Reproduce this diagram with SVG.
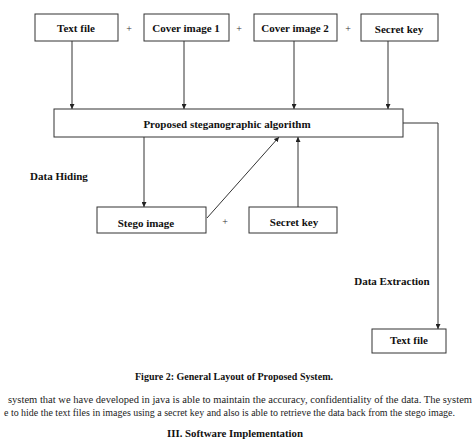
<svg xmlns="http://www.w3.org/2000/svg" width="474" height="445" viewBox="0 0 474 445">
<style>
.box{fill:#fff;stroke:#333;stroke-width:1}
.lbl{font-family:"Liberation Serif",serif;font-weight:bold;font-size:11px;fill:#111;text-anchor:middle}
.pl{font-family:"Liberation Serif",serif;font-size:10px;fill:#333;text-anchor:middle}
.body{font-family:"Liberation Serif",serif;font-size:10px;fill:#222}
.ln{fill:none;stroke:#333;stroke-width:1}
</style>
<defs>
<marker id="ah" viewBox="0 0 8 8" refX="8" refY="4" markerWidth="5" markerHeight="5" orient="auto" markerUnits="userSpaceOnUse">
<path d="M0,0 L8,4 L0,8 z" fill="#222"/>
</marker>
</defs>
<rect width="474" height="445" fill="#fff"/>
<g id="connectors">
<line class="ln" x1="72" y1="41" x2="72" y2="109" marker-end="url(#ah)"/>
<line class="ln" x1="184" y1="41" x2="184" y2="109" marker-end="url(#ah)"/>
<line class="ln" x1="294" y1="41" x2="294" y2="109" marker-end="url(#ah)"/>
<line class="ln" x1="388" y1="41" x2="388" y2="109" marker-end="url(#ah)"/>
<line class="ln" x1="144" y1="137" x2="144" y2="207" marker-end="url(#ah)"/>
<line class="ln" x1="207" y1="218" x2="279" y2="137" marker-end="url(#ah)"/>
<line class="ln" x1="298" y1="207" x2="298" y2="137" marker-end="url(#ah)"/>
<polyline class="ln" points="403,123 438,123 438,329" marker-end="url(#ah)"/>
</g>
<g id="n-textfile"><rect class="box" x="35" y="14" width="83" height="27"/><text class="lbl" x="76" y="32">Text file</text></g>
<g id="n-cover1"><rect class="box" x="144" y="14" width="85" height="27"/><text class="lbl" x="186" y="32">Cover image 1</text></g>
<g id="n-cover2"><rect class="box" x="254" y="14" width="83" height="27"/><text class="lbl" x="295" y="32">Cover image 2</text></g>
<g id="n-secret1"><rect class="box" x="361" y="14" width="77" height="27"/><text class="lbl" x="399" y="33">Secret key</text></g>
<g id="n-algo"><rect class="box" x="54" y="109" width="349" height="28"/><text class="lbl" x="227" y="128">Proposed steganographic algorithm</text></g>
<g id="n-stego"><rect class="box" x="97" y="207" width="109" height="26"/><text class="lbl" x="146" y="227">Stego image</text></g>
<g id="n-secret2"><rect class="box" x="249" y="207" width="88" height="26"/><text class="lbl" x="294" y="226">Secret key</text></g>
<g id="n-textout"><rect class="box" x="372" y="329" width="74" height="24"/><text class="lbl" x="409" y="344">Text file</text></g>
<text class="pl" x="129" y="32">+</text>
<text class="pl" x="239" y="32">+</text>
<text class="pl" x="348" y="32">+</text>
<text class="pl" x="225" y="225">+</text>
<text class="lbl" x="59" y="180">Data Hiding</text>
<text class="lbl" x="392" y="285">Data Extraction</text>
<text class="lbl" x="234" y="380" textLength="198" lengthAdjust="spacingAndGlyphs">Figure 2: General Layout of Proposed System.</text>
<text class="body" x="8" y="403" textLength="464" lengthAdjust="spacingAndGlyphs">system that we have developed in java is able to maintain the accuracy, confidentiality of the data. The system</text>
<text class="body" x="4" y="416" textLength="451" lengthAdjust="spacingAndGlyphs">e to hide the text files in images using a secret key and also is able to retrieve the data back from the stego image.</text>
<text class="lbl" x="235" y="437" textLength="136" lengthAdjust="spacingAndGlyphs">III.  Software Implementation</text>
</svg>
